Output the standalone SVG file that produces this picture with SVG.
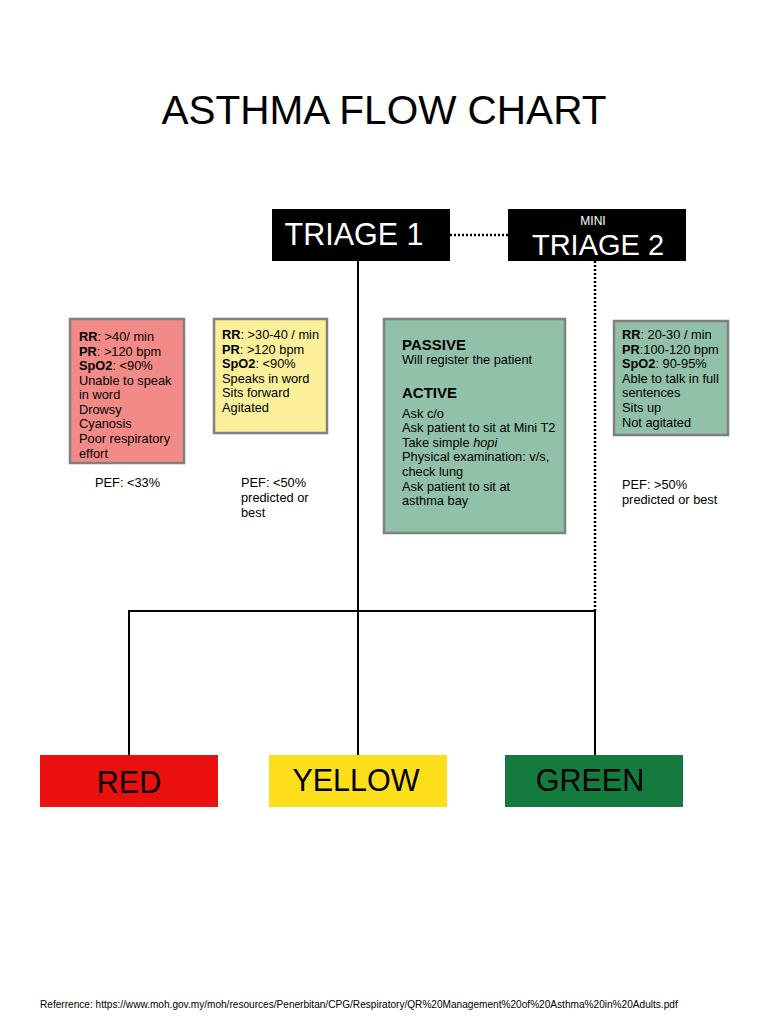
<svg xmlns="http://www.w3.org/2000/svg" width="768" height="1024" viewBox="0 0 768 1024">
<style>
text{font-family:"Liberation Sans",Arial,sans-serif;fill:#000}
.s{font-size:12.8px}
.big{font-size:30.5px}
.box{stroke:#808080;stroke-width:2.5}
.ln{stroke:#000;stroke-width:2;fill:none}
.dot{stroke:#000;stroke-width:2.5;fill:none;stroke-dasharray:2 2}
</style>
<rect width="768" height="1024" fill="#fff"/>
<text x="384" y="124" font-size="40.5" text-anchor="middle">ASTHMA FLOW CHART</text>
<g id="connectors">
<line class="dot" x1="450" y1="235" x2="508" y2="235"/>
<line class="dot" x1="595" y1="261" x2="595" y2="612"/>
<line class="ln" x1="358" y1="261" x2="358" y2="755"/>
<polyline class="ln" points="129,755 129,611 595,611 595,755"/>
</g>
<g id="triage1"><rect x="272" y="209" width="178" height="52" fill="#000"/><text class="big" x="354" y="245" text-anchor="middle" style="fill:#fff">TRIAGE 1</text></g>
<g id="triage2"><rect x="508" y="209" width="178" height="52" fill="#000"/><text x="593" y="225" font-size="12" text-anchor="middle" style="fill:#fff">MINI</text><text x="598" y="255" font-size="29" text-anchor="middle" style="fill:#fff">TRIAGE 2</text></g>
<g id="red-criteria"><rect class="box" x="70" y="319" width="114" height="144" fill="#f28b88"/>
<text class="s"><tspan x="79" y="341"><tspan font-weight="bold">RR</tspan>: &gt;40/ min</tspan><tspan x="79" y="356"><tspan font-weight="bold">PR</tspan>: &gt;120 bpm</tspan><tspan x="79" y="370"><tspan font-weight="bold">SpO2</tspan>: &lt;90%</tspan><tspan x="79" y="385">Unable to speak</tspan><tspan x="79" y="399">in word</tspan><tspan x="79" y="414">Drowsy</tspan><tspan x="79" y="428">Cyanosis</tspan><tspan x="79" y="443">Poor respiratory</tspan><tspan x="79" y="458">effort</tspan></text>
<text class="s" x="95" y="487">PEF: &lt;33%</text></g>
<g id="yellow-criteria"><rect class="box" x="214" y="319" width="113" height="114" fill="#fbef9a"/>
<text class="s"><tspan x="222" y="339"><tspan font-weight="bold">RR</tspan>: &gt;30-40 / min</tspan><tspan x="222" y="354"><tspan font-weight="bold">PR</tspan>: &gt;120 bpm</tspan><tspan x="222" y="368"><tspan font-weight="bold">SpO2</tspan>: &lt;90%</tspan><tspan x="222" y="383">Speaks in word</tspan><tspan x="222" y="397">Sits forward</tspan><tspan x="222" y="412">Agitated</tspan></text>
<text class="s"><tspan x="241" y="487">PEF: &lt;50%</tspan><tspan x="241" y="502">predicted or</tspan><tspan x="241" y="517">best</tspan></text></g>
<g id="triage-actions"><rect class="box" x="384" y="319" width="181" height="214" fill="#92c1a9"/>
<text x="402" y="350" font-size="15" font-weight="bold">PASSIVE</text><text class="s" x="402" y="364">Will register the patient</text>
<text x="402" y="398" font-size="15" font-weight="bold">ACTIVE</text>
<text class="s"><tspan x="402" y="418">Ask c/o</tspan><tspan x="402" y="432">Ask patient to sit at Mini T2</tspan><tspan x="402" y="447">Take simple <tspan font-style="italic">hopi</tspan></tspan><tspan x="402" y="461">Physical examination: v/s,</tspan><tspan x="402" y="476">check lung</tspan><tspan x="402" y="491">Ask patient to sit at</tspan><tspan x="402" y="505">asthma bay</tspan></text></g>
<g id="green-criteria"><rect class="box" x="614" y="321" width="114" height="114" fill="#92c1a9"/>
<text class="s"><tspan x="622" y="339"><tspan font-weight="bold">RR</tspan>: 20-30 / min</tspan><tspan x="622" y="354"><tspan font-weight="bold">PR</tspan>:100-120 bpm</tspan><tspan x="622" y="368"><tspan font-weight="bold">SpO2</tspan>: 90-95%</tspan><tspan x="622" y="383">Able to talk in full</tspan><tspan x="622" y="397">sentences</tspan><tspan x="622" y="412">Sits up</tspan><tspan x="622" y="427">Not agitated</tspan></text>
<text class="s"><tspan x="622" y="489">PEF: &gt;50%</tspan><tspan x="622" y="504">predicted or best</tspan></text></g>
<g id="red"><rect x="40" y="755" width="178" height="52" fill="#e9100f"/><text class="big" x="129" y="793" text-anchor="middle">RED</text></g>
<g id="yellow"><rect x="269" y="755" width="178" height="52" fill="#fcdf1a"/><text class="big" x="356" y="791" text-anchor="middle">YELLOW</text></g>
<g id="green"><rect x="505" y="755" width="178" height="52" fill="#157a3d"/><text class="big" x="590" y="791" text-anchor="middle">GREEN</text></g>
<text x="40" y="1008" font-size="10.1">Referrence: https://www.moh.gov.my/moh/resources/Penerbitan/CPG/Respiratory/QR%20Management%20of%20Asthma%20in%20Adults.pdf</text>
</svg>
